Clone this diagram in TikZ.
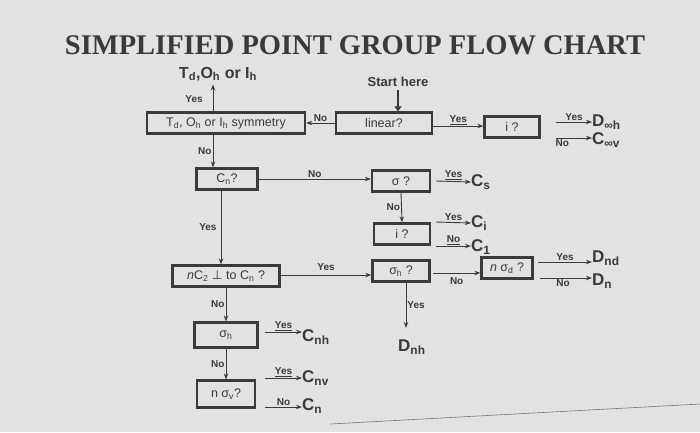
\documentclass[tikz,border=0pt]{standalone}
\usepackage{fontspec}
\setmainfont{Liberation Sans}
\newfontfamily\titlefont{Liberation Serif}
\newfontfamily\dvs{DejaVu Sans}
\usetikzlibrary{arrows.meta}
\definecolor{ink}{HTML}{3A3A3A}
\definecolor{bg}{HTML}{E2E2E0}
\newcommand{\sbs}[1]{\textsubscript{#1}}
\begin{document}
\begin{tikzpicture}[x=1pt,y=-1pt,
  qbox/.style={draw=ink,line width=2.3pt,minimum height=21pt,inner sep=1pt,font=\fontsize{12.5}{13}\selectfont,text=ink},
  arr/.style={draw=ink,line width=0.9pt,-{Stealth[length=6pt,width=4.5pt]}},
  lab/.style={font=\fontsize{10}{11}\selectfont\bfseries,text=ink,inner sep=1pt},
  res/.style={font=\fontsize{17}{19}\selectfont\bfseries,text=ink,inner sep=0pt,anchor=west},
  every node/.append style={text=ink}]
\fill[bg] (0,0) rectangle (700,432);
\useasboundingbox (0,0) rectangle (700,432);
\node[font=\titlefont\fontsize{28.5}{32}\selectfont\bfseries] (title) at (355,45) {SIMPLIFIED POINT GROUP FLOW CHART};
\node[font=\fontsize{16}{18}\selectfont\bfseries] (toi) at (218,74) {T\sbs{d},O\sbs{h} or I\sbs{h}};
\node[font=\fontsize{13}{15}\selectfont\bfseries] (start) at (398,82) {Start here};
\node[qbox,minimum width=158pt] (T) at (226,123) {T\sbs{d}, O\sbs{h} or I\sbs{h} symmetry};
\node[qbox,minimum width=96pt] (lin) at (384,123) {linear?};
\node[qbox,minimum width=55pt] (i1) at (512,127) {i ?};
\node[qbox,minimum width=61pt] (cn) at (227,179) {C\sbs{n}?};
\node[qbox,minimum width=58pt] (sig) at (401,181) {σ ?};
\node[qbox,minimum width=56pt] (i2) at (402,234) {i ?};
\node[qbox,minimum width=107pt] (nc2) at (226,276) {\textit{n}C\sbs{2} {\dvs ⊥} to C\sbs{n} ?};
\node[qbox,minimum width=57pt] (sh) at (401,271) {σ\sbs{h} ?};
\node[qbox,minimum width=51pt] (nsd) at (507,268) {\textit{n} σ\sbs{d} ?};
\node[qbox,minimum width=63pt,minimum height=25pt] (sh2) at (226,335) {σ\sbs{h}};
\node[qbox,minimum width=58pt,minimum height=27pt] (nsv) at (226,394) {n σ\sbs{v}?};
% results
\node[res] (dinf) at (592,122) {D\sbs{∞h}};
\node[res] (cinf) at (592,140) {C\sbs{∞v}};
\node[res] (cs) at (471,182) {C\sbs{s}};
\node[res] (ci) at (471,223) {C\sbs{i}};
\node[res] (c1) at (471,247) {C\sbs{1}};
\node[res] (dnd) at (592,258) {D\sbs{nd}};
\node[res] (dn) at (592,281) {D\sbs{n}};
\node[res] (dnh) at (398,347) {D\sbs{nh}};
\node[res] (cnh) at (302,337) {C\sbs{nh}};
\node[res] (cnv) at (302,378) {C\sbs{nv}};
\node[res] (cnn) at (302,406) {C\sbs{n}};
% connectors
\draw[draw=ink,line width=1.6pt,-{Triangle[length=5pt,width=7pt]}] (start.south) -- (start.south |- lin.north);
\draw[arr] (T.north -| toi) ++(-5,0) coordinate (tu) -- (tu |- toi.south);
\node[lab] at (194,99) {Yes};
\draw[arr] (lin.west) -- node[lab,above] {No} (T.east);
\draw[arr] (lin.east) ++(0,3) coordinate (la) -- node[lab,above] {\underline{Yes}} (la -| i1.west);
\draw[arr] (556,122) -- node[lab,above] {Yes} (dinf.west);
\draw[arr] (556,138) -- node[lab,anchor=north east,pos=0.4] {No} (dinf.west |- 0,138);
\draw[arr] (cn.east) -- node[lab,above] {No} (cn.east -| sig.west);
\draw[arr] (sig.east) ++(5,0) -- node[lab,above] {\underline{Yes}} (cs.west);
\draw[arr] (sig.south) -- node[lab,left] {No} (i2.north);
\draw[arr] (436,222) -- node[lab,above] {Yes} (ci.west);
\draw[arr] (436,246) -- node[lab,above] {\underline{No}} (c1.west |- 0,246);
\draw[arr] (T.south) ++(-13,0) coordinate (ts) -- node[lab,left] {No} (ts |- cn.north);
\draw[arr] (cn.south) ++(-6,0) coordinate (cs2) -- node[lab,left=3pt] {Yes} (cs2 |- nc2.north);
\draw[arr] (nc2.east) ++(0,-1) coordinate (ne) -- node[lab,above=3pt] {Yes} (ne -| sh.west);
\draw[arr] (433,273) -- node[lab,below=3pt] {No} (nsd.west |- 0,273);
\draw[arr] (538,262) -- node[lab,above] {Yes} (dnd.west |- 0,262);
\draw[arr] (540,278) -- node[lab,anchor=north east,pos=0.6] {No} (dn.west |- 0,278);
\draw[arr] (sh.south) ++(5,0) coordinate (shs) -- node[lab,right] {Yes} (shs |- 0,328);
\draw[arr] (nc2.south) -- node[lab,left] {No} (sh2.north);
\draw[arr] (sh2.south) -- node[lab,left] {No} (nsv.north);
\draw[arr] (265,332) -- node[lab,above] {\underline{Yes}} (cnh.west |- 0,332);
\draw[arr] (265,378) -- node[lab,above] {\underline{Yes}} (cnv.west |- 0,378);
\draw[arr] (265,407) -- node[lab,above] {No} (cnn.west |- 0,407);
\draw[ink!70,line width=0.6pt] (330,424) -- (700,404);
\end{tikzpicture}
\end{document}
